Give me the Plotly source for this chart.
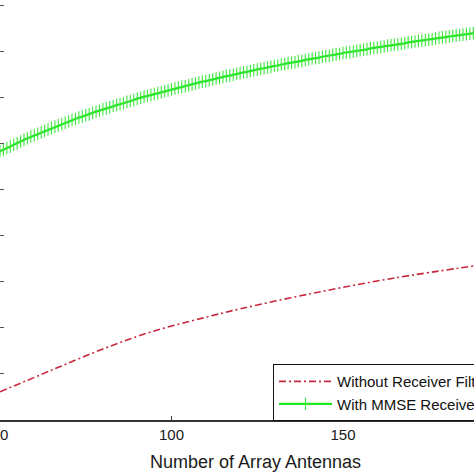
import plotly.graph_objects as go

# number of array antennas (x axis)
antennas_mmse = list(range(50, 191))

# With MMSE receiver filter, one value per antenna count
rate_mmse = [
    5.83, 5.86, 5.90, 5.93, 5.97, 6.00, 6.04, 6.08, 6.11, 6.15,
    6.18, 6.21, 6.24, 6.27, 6.30, 6.33, 6.36, 6.39, 6.42, 6.45,
    6.48, 6.51, 6.53, 6.56, 6.58, 6.61, 6.63, 6.66, 6.69, 6.71,
    6.74, 6.76, 6.78, 6.81, 6.83, 6.85, 6.87, 6.90, 6.92, 6.94,
    6.97, 6.99, 7.01, 7.03, 7.05, 7.07, 7.09, 7.11, 7.13, 7.15,
    7.17, 7.19, 7.21, 7.23, 7.24, 7.26, 7.28, 7.30, 7.32, 7.34,
    7.35, 7.37, 7.39, 7.41, 7.42, 7.44, 7.46, 7.47, 7.49, 7.51,
    7.52, 7.54, 7.55, 7.57, 7.59, 7.60, 7.62, 7.63, 7.65, 7.66,
    7.68, 7.69, 7.71, 7.72, 7.74, 7.75, 7.76, 7.78, 7.79, 7.81,
    7.82, 7.84, 7.85, 7.86, 7.88, 7.89, 7.90, 7.92, 7.93, 7.94,
    7.96, 7.97, 7.98, 7.99, 8.01, 8.02, 8.03, 8.04, 8.06, 8.07,
    8.08, 8.09, 8.10, 8.12, 8.13, 8.14, 8.15, 8.16, 8.17, 8.19,
    8.20, 8.21, 8.22, 8.23, 8.24, 8.25, 8.26, 8.28, 8.29, 8.30,
    8.31, 8.32, 8.33, 8.34, 8.35, 8.36, 8.37, 8.38, 8.39, 8.40,
    8.41,
]

# Without receiver filter
antennas_plain = [50, 65, 80, 94, 109, 120, 142, 165, 190]
rate_plain = [0.61, 1.08, 1.54, 1.91, 2.21, 2.41, 2.76, 3.08, 3.36]

x_ticks = [50, 100, 150, 200]
y_ticks = list(range(0, 11))

FONT = "Arial, Liberation Sans, sans-serif"

fig = go.Figure()

fig.add_trace(go.Scatter(
    x=antennas_plain, y=rate_plain, name="Without Receiver Filter",
    mode="lines", line=dict(color="#c8283c", width=1.6, dash="7px,3px,2px,3px", shape="spline"),
))

fig.add_trace(go.Scatter(
    x=antennas_mmse, y=rate_mmse, name="With MMSE Receiver Filter",
    mode="lines+markers", line=dict(color="#22e622", width=2.2),
    marker=dict(symbol="line-ns", size=9, line=dict(color="#3de83d", width=1.1)),
))

fig.update_layout(
    width=474, height=474,
    margin=dict(l=0, r=0, t=0, b=54, autoexpand=False),
    plot_bgcolor="white", paper_bgcolor="white",
    font=dict(family=FONT, size=15, color="#1a1a1a"),
    showlegend=True,
    legend=dict(
        x=0.576, y=0.133, xanchor="left", yanchor="top",
        bgcolor="white", bordercolor="#111111", borderwidth=1,
        font=dict(family=FONT, size=15, color="#111111"),
        tracegroupgap=0, itemwidth=53,
    ),
)

fig.update_xaxes(
    range=[50, 188.2], tickvals=x_ticks,
    ticks="inside", ticklen=4, tickcolor="#333333",
    showline=True, linecolor="#333333", linewidth=1.5,
    showgrid=False, zeroline=False, automargin=False,
    tickfont=dict(size=15), ticklabeloverflow="allow",
)

fig.update_yaxes(
    range=[0, 9.11], tickvals=y_ticks, showticklabels=False,
    ticks="inside", ticklen=4, tickcolor="#555555",
    showline=False, showgrid=False, zeroline=False, automargin=False,
)

fig.add_annotation(
    text="Number of Array Antennas", xref="paper", yref="paper",
    x=0.538, y=-0.1, xanchor="center", yanchor="middle",
    showarrow=False, font=dict(family=FONT, size=18, color="#1a1a1a"),
)

# page body has a default 8px margin; drop it so the figure sits at the corner
fig.write_html("out.html", config={"displayModeBar": False},
               post_script="document.body.style.margin = '0';")
